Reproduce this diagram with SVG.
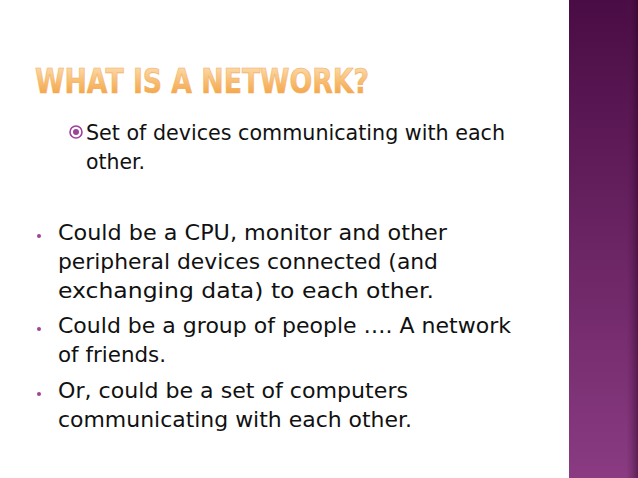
<svg xmlns="http://www.w3.org/2000/svg" width="638" height="478" viewBox="0 0 638 478">
<defs>
<linearGradient id="bar" x1="0" y1="0" x2="0" y2="1"><stop offset="0" stop-color="#4a0c44"/><stop offset="1" stop-color="#8a3b82"/></linearGradient>
<linearGradient id="bedge" x1="0" y1="0" x2="1" y2="0"><stop offset="0" stop-color="#5a1a55" stop-opacity="0"/><stop offset="1" stop-color="#2a0626" stop-opacity="0.5"/></linearGradient>
<linearGradient id="ttl" x1="0" y1="0" x2="0" y2="1"><stop offset="0" stop-color="#fde3bd"/><stop offset="0.5" stop-color="#f8bd72"/><stop offset="1" stop-color="#f29a34"/></linearGradient>
<style>
.b{font-family:"DejaVu Sans","Verdana",sans-serif;font-size:21px;fill:#111}
.d{fill:#a0419a}
</style>
</defs>
<rect width="638" height="478" fill="#fff"/>
<g id="bar"><rect x="569" y="0" width="69" height="478" fill="url(#bar)"/><rect x="626" y="0" width="12" height="478" fill="url(#bedge)"/></g>
<g id="title"><text x="35" y="93" textLength="334" lengthAdjust="spacingAndGlyphs" font-family="DejaVu Sans,sans-serif" font-size="33" font-weight="bold" fill="url(#ttl)" stroke="#f1ad5c" stroke-width="0.6">WHAT IS A NETWORK?</text></g>
<g id="body">
<circle cx="76" cy="132" r="6" fill="none" stroke="#a0419a" stroke-width="1.6"/><circle cx="76" cy="132" r="3" fill="#a0419a"/>
<text class="b" x="86" y="140" textLength="419" lengthAdjust="spacingAndGlyphs">Set of devices communicating with each</text>
<text class="b" x="86" y="169" textLength="59" lengthAdjust="spacingAndGlyphs">other.</text>
<circle class="d" cx="39" cy="236" r="2"/>
<text class="b" x="58" y="240" textLength="389" lengthAdjust="spacingAndGlyphs">Could be a CPU, monitor and other</text>
<text class="b" x="58" y="269" textLength="380" lengthAdjust="spacingAndGlyphs">peripheral devices connected (and</text>
<text class="b" x="58" y="298" textLength="376" lengthAdjust="spacingAndGlyphs">exchanging data) to each other.</text>
<circle class="d" cx="39" cy="329" r="2"/>
<text class="b" x="58" y="333" textLength="453" lengthAdjust="spacingAndGlyphs">Could be a group of people …. A network</text>
<text class="b" x="58" y="362" textLength="108" lengthAdjust="spacingAndGlyphs">of friends.</text>
<circle class="d" cx="39" cy="394" r="2"/>
<text class="b" x="58" y="398" textLength="350" lengthAdjust="spacingAndGlyphs">Or, could be a set of computers</text>
<text class="b" x="58" y="427" textLength="354" lengthAdjust="spacingAndGlyphs">communicating with each other.</text>
</g>
</svg>
